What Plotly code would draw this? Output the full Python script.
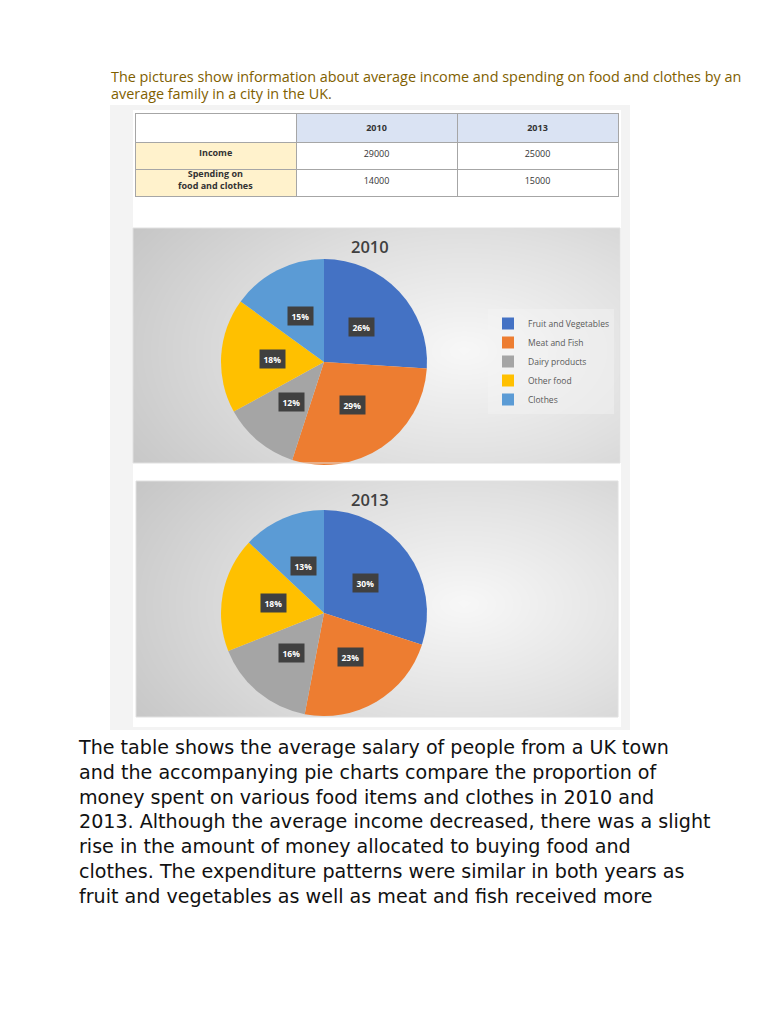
import numpy as np
import plotly.graph_objects as go

# ---------------- data ----------------
heading_lines = [
    "The pictures show information about average income and spending on food and clothes by an",
    "average family in a city in the UK.",
]
table_years = ["2010", "2013"]
table_rows = ["Income", "Spending on<br>food and clothes"]
income = [29000, 25000]
spending = [14000, 15000]

categories = ["Fruit and Vegetables", "Meat and Fish", "Dairy products", "Other food", "Clothes"]
values_2010 = [26, 29, 12, 18, 15]
values_2013 = [30, 23, 16, 18, 13]
colors = ["#4472C4", "#ED7D31", "#A5A5A5", "#FFC000", "#5B9BD5"]

paragraph_lines = [
    "The table shows the average salary of people from a UK town",
    "and the accompanying pie charts compare the proportion of",
    "money spent on various food items and clothes in 2010 and",
    "2013. Although the average income decreased, there was a slight",
    "rise in the amount of money allocated to buying food and",
    "clothes. The expenditure patterns were similar in both years as",
    "fruit and vegetables as well as meat and fish received more",
]

# ---------------- helpers ----------------
OFF = 8  # page body margin
W, H = 768 - OFF, 1024 - OFF
def X(px):
    return (px - OFF) / W
def Y(py):
    return 1 - (py - OFF) / H

fig = go.Figure()
annotations = []
shapes = []

# page panels
shapes.append(dict(type="rect", xref="paper", yref="paper", x0=X(110), x1=X(630), y0=Y(730), y1=Y(105),
                   fillcolor="#f3f3f3", line=dict(width=0), layer="below"))
shapes.append(dict(type="rect", xref="paper", yref="paper", x0=X(133), x1=X(621), y0=Y(727), y1=Y(110),
                   fillcolor="#ffffff", line=dict(width=0), layer="below"))

# heading
for i, line in enumerate(heading_lines):
    annotations.append(dict(text=line, xref="paper", yref="paper", x=X(109), y=Y(77 + 17 * i),
                            xanchor="left", yanchor="middle", showarrow=False,
                            font=dict(family="Open Sans", size=14.4, color="#7F6000")))

# table
tab_top, hdr_h, row_h = 113, 27, 27
tfont = dict(family="Open Sans", size=9, color="#333333")
fig.add_trace(go.Table(
    domain=dict(x=[X(135), X(618)], y=[Y(tab_top + hdr_h + 2 * row_h + 12), Y(tab_top)]),
    columnwidth=[1, 1, 1],
    header=dict(values=[""] + ["<b>%s</b>" % y for y in table_years],
                fill_color=["#ffffff", "#dae3f3", "#dae3f3"],
                line_color="#a6a6a6", height=hdr_h, align="center", font=tfont),
    cells=dict(values=[["", ""],
                       [str(income[0]), str(spending[0])],
                       [str(income[1]), str(spending[1])]],
               fill_color=[["#fff2cc"] * 2, ["#ffffff"] * 2, ["#ffffff"] * 2],
               line_color="#a6a6a6", height=row_h, align="center", font=tfont),
))
# row labels of the first column (centred multi-line)
for i, lab in enumerate(table_rows):
    annotations.append(dict(text="<b>%s</b>" % lab, xref="paper", yref="paper",
                            x=X((135 + 296) / 2), y=Y(tab_top + hdr_h + row_h * (i + 0.5) - 1),
                            xanchor="center", yanchor="middle", align="center", showarrow=False,
                            font=dict(family="Open Sans", size=9, color="#333333")))

# chart panels with gradient backgrounds
panels = [
    dict(x0=133, x1=620, y0=228, y1=463, title="2010", cy=362, values=values_2010,
         legend="legend", leg_y=309),
    dict(x0=136, x1=618, y0=481, y1=717, title="2013", cy=613, values=values_2013,
         legend="legend2", leg_y=562),
]
gx = np.linspace(0, 1, 60)
gy = np.linspace(0, 1, 40)
GX, GY = np.meshgrid(gx, gy)
grad = np.sqrt(((GX - 0.68) / 0.75) ** 2 + ((GY - 0.52) / 0.9) ** 2)

cx = 324
R = 103
for k, p in enumerate(panels):
    xa = "x" if k == 0 else "x2"
    ya = "y" if k == 0 else "y2"
    fig.add_trace(go.Heatmap(x=gx, y=gy, z=grad, xaxis=xa, yaxis=ya, zsmooth="best",
                             colorscale=[[0, "#f7f7f7"], [0.5, "#e0e0e0"], [1, "#c6c6c6"]],
                             showscale=False, hoverinfo="skip"))
    axname = "" if k == 0 else "2"
    fig.update_layout(**{
        "xaxis" + axname: dict(domain=[X(p["x0"]), X(p["x1"])], range=[0, 1], visible=False,
                               anchor=ya, fixedrange=True),
        "yaxis" + axname: dict(domain=[Y(p["y1"]), Y(p["y0"])], range=[1, 0], visible=False,
                               anchor=xa, fixedrange=True),
    })
    shapes.append(dict(type="rect", xref="paper", yref="paper", x0=X(p["x0"]), x1=X(p["x1"]),
                       y0=Y(p["y1"]), y1=Y(p["y0"]), line=dict(color="#e0e0e0", width=1),
                       fillcolor="rgba(0,0,0,0)", layer="above"))
    # title
    annotations.append(dict(text=p["title"], xref="paper", yref="paper", x=X(370), y=Y(p["y0"] + 18),
                            xanchor="center", yanchor="middle", showarrow=False,
                            font=dict(family="Open Sans", size=16.5, color="#404040", weight=600)))
    # pie
    cy = p["cy"]
    fig.add_trace(go.Pie(labels=categories, values=p["values"], sort=False, direction="clockwise",
                         rotation=0, marker=dict(colors=colors, line=dict(width=0)),
                         textinfo="none", hoverinfo="label+percent",
                         domain=dict(x=[X(cx - R), X(cx + R)], y=[Y(cy + R), Y(cy - R)]),
                         legend=p["legend"], showlegend=True))
    # data labels
    cum = 0
    for v in p["values"]:
        ang = np.deg2rad(360 * (cum + v / 2) / sum(p["values"]))
        cum += v
        lx = cx + 0.5 * R * np.sin(ang)
        ly = cy - 0.5 * R * np.cos(ang)
        annotations.append(dict(text="<b>%d%%</b>" % v, xref="paper", yref="paper", x=X(lx), y=Y(ly),
                                xanchor="center", yanchor="middle", showarrow=False,
                                bgcolor="#404040", borderpad=3.5,
                                font=dict(family="Open Sans", size=8.5, color="#ffffff")))
    fig.update_layout(**{
        p["legend"]: dict(x=X(488), y=Y(p["leg_y"]), xanchor="left", yanchor="top",
                          bgcolor="rgba(245,245,245,0.45)", borderwidth=0,
                          font=dict(family="Open Sans", size=8.5, color="#595959"),
                          itemwidth=30, tracegroupgap=0)
    })

# paragraph (one block, line spacing set by the library)
annotations.append(dict(text="<br>".join(paragraph_lines), xref="paper", yref="paper",
                        x=X(76), y=Y(734), xanchor="left", yanchor="top", align="left",
                        showarrow=False,
                        font=dict(family="DejaVu Sans", size=19.1, color="#111111")))

fig.update_layout(width=W, height=H, margin=dict(l=0, r=0, t=0, b=0),
                  paper_bgcolor="#ffffff", plot_bgcolor="rgba(0,0,0,0)",
                  annotations=annotations, shapes=shapes)

fig.write_html("out.html")
